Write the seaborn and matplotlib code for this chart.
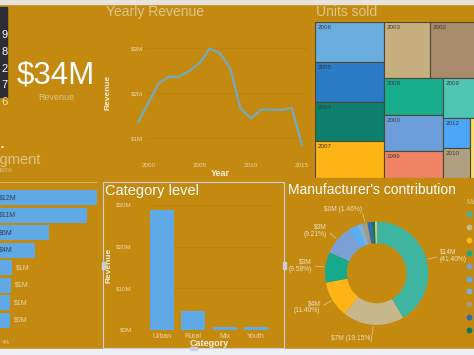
import numpy as np
import pandas as pd
import matplotlib.pyplot as plt
import seaborn as sns
from matplotlib.patches import Rectangle
from matplotlib.lines import Line2D

# Daten
years = list(range(1999, 2016))
yearly_revenue = [1.36, 1.78, 2.22, 2.37, 2.37, 2.50, 2.67, 3.00, 2.89, 2.56,
                  1.67, 1.44, 1.64, 1.64, 1.63, 1.68, 0.85]  # $M

tree_years = ['2006', '2005', '2004', '2007', '2003', '2002', '2008', '2000',
              '1999', '2009', '2012', '2010', '2011']
tree_units = [2760, 2760, 2690, 2553, 2576, 2540, 2183, 2124, 1593, 1350, 810, 800, 377]
tree_colors = ['#6AAEE0', '#2B7BC6', '#0C7F6D', '#FDB515', '#C6AE7F', '#A88B6B',
               '#17AE8E', '#6D9EDC', '#F08462', '#4FC6B3', '#4DA6F5', '#AFA082', '#F7DC6F']

categories = ['Urban', 'Rural', 'Mix', 'Youth']
category_revenue = [28.8, 4.6, 0.8, 0.65]  # $M

segments = ['Productivity', 'Convenience', 'Moderation', 'Extreme',
            'Select', 'Youth', 'Regular', 'All Season']
segment_revenue = [12.4, 11.2, 6.45, 4.7, 1.86, 1.74, 1.61, 1.61]
segment_labels = ['$12M', '$11M', '$6M', '$4M', '$1M', '$1M', '$1M', '$0M']

manufacturers = ['VanArsdel', 'Natura', 'Aliqui', 'Pirum', 'Fama', 'Leo',
                 'Abbas', 'Quibus', 'Currus', 'Palma', 'Barba']
manufacturer_share = [41.40, 19.15, 11.40, 9.58, 9.21, 3.0, 1.7, 1.46, 1.4, 1.0, 0.5]  # %
manufacturer_colors = ['#3DB5A0', '#C9B78C', '#FDB515', '#17A98B', '#7C9FD8', '#5AAEF5',
                       '#7DB0E0', '#A99A7C', '#2E6DB4', '#0D7562', '#F3D58C']
manufacturer_labelled = [True, True, True, True, True, False, False, True, False, False, False]
total_revenue = 34  # $M

GOLD = '#C48A10'
PALE = '#DCC78C'
TICK = '#E8D7A8'
AXLAB = '#F5EEDC'
BAR = '#5FAAE6'
LINE = '#72AAC2'
GRID = '#A8760E'

sns.set_theme(style='white')
plt.rcParams['font.family'] = ['Liberation Sans', 'DejaVu Sans']

W, H = 474, 355
fig = plt.figure(figsize=(W / 100, H / 100), dpi=100, facecolor=GOLD)


def box(l, t, r, b):
    # Achse in Pixelkoordinaten anlegen
    ax = fig.add_axes([l / W, 1 - b / H, (r - l) / W, (b - t) / H])
    ax.set_facecolor('none')
    for s in ax.spines.values():
        s.set_visible(False)
    return ax


def ftext(x, y, s, **kw):
    fig.text(x / W, 1 - y / H, s, **kw)


def frect(x, y, w, h, **kw):
    fig.patches.append(Rectangle((x / W, 1 - (y + h) / H), w / W, h / H,
                                 transform=fig.transFigure, **kw))


# Rahmen / Streifen
frect(0, 0, W, 4, color='#E7E3DB')
frect(0, 349, W, 6, color='#EDF1F6')
frect(0, 7, 7, 90, color='#2B2E37')
for d, y, c in zip('98276', [35, 52, 69, 85, 102], ['white'] * 4 + ['#F2E2A8']):
    ftext(7.5, y, d, ha='right', va='center', fontsize=8, color=c)
ftext(1, 147, '•', ha='left', va='center', fontsize=6, color='white')

# KPI
ftext(56, 76, '$34M', ha='center', va='center', fontsize=22.5, color='white')
ftext(56, 97, 'Revenue', ha='center', va='center', fontsize=6.5, color=PALE)

# Titel
ftext(106, 12, 'Yearly Revenue', va='center', fontsize=10, color=PALE)
ftext(316, 12, 'Units sold', va='center', fontsize=10, color=PALE)
ftext(40, 160, 'by Segment', ha='right', va='center', fontsize=10.5, color=PALE)
ftext(105, 191, 'Category level', va='center', fontsize=10.5, color='white')
ftext(288, 190, "Manufacturer's contribution", va='center', fontsize=10, color='white')

# Liniendiagramm
ax = box(133, 30, 307, 155)
sns.lineplot(x=years, y=yearly_revenue, color=LINE, lw=1.6, ax=ax)
ax.set_xlim(1998.51, 2015.49)
ax.set_ylim(0.63, 3.41)
ax.set_yticks([1, 2, 3])
ax.set_yticklabels(['$1M', '$2M', '$3M'])
ax.set_xticks([2000, 2005, 2010, 2015])
ax.tick_params(axis='y', length=0, pad=-7, labelsize=4.5, labelcolor=TICK)
ax.tick_params(axis='x', length=0, pad=6, labelsize=4.5, labelcolor=TICK)
for v in [1, 2, 3]:
    ax.axhline(v, xmin=0.08, color=GRID, lw=0.6, ls=(0, (1, 1.5)), zorder=0)
ax.set_xlabel('Year', fontsize=6.5, fontweight='bold', color=AXLAB)
ax.set_ylabel('Revenue', fontsize=6, fontweight='bold', color=AXLAB)
ax.xaxis.set_label_coords(0.5, -0.112)
ax.yaxis.set_label_coords(-0.124, 0.5)


# Treemap (squarified mit wechselnder Ausrichtung)
def worst_ratio(row, side):
    t = sum(row) / side
    return max(max(t / (r / t), (r / t) / t) for r in row)


def treemap(sizes, x, y, w, h, vertical=True, limit=2.5):
    rects = []
    i = 0
    while i < len(sizes):
        side = h if vertical else w
        row = [sizes[i]]
        i += 1
        while i < len(sizes):
            cand = row + [sizes[i]]
            wc = worst_ratio(cand, side)
            if wc <= limit or wc < worst_ratio(row, side):
                row = cand
                i += 1
            else:
                break
        t = sum(row) / side
        pos = y if vertical else x
        for r in row:
            l = r / t
            rects.append((x, pos, t, l) if vertical else (pos, y, l, t))
            pos += l
        if vertical:
            x += t
            w -= t
        else:
            y += t
            h -= t
        vertical = not vertical
    return rects


tw, th = 161, 156
ax = box(315, 22, 315 + tw, 22 + th)
ax.set_xlim(0, tw)
ax.set_ylim(th, 0)
areas = np.array(tree_units, dtype=float) / sum(tree_units) * tw * th
for (x, y, w, h), lab, c in zip(treemap(list(areas), 0, 0, tw, th), tree_years, tree_colors):
    ax.add_patch(Rectangle((x, y), w, h, facecolor=c, edgecolor='#4D4535', lw=0.8))
    if w > 14 and h > 10:
        ax.text(x + 2.5, y + 3, lab, fontsize=4.5, color='#3B3B3B', va='top', ha='left')
ax.set_xticks([])
ax.set_yticks([])

# Segment-Balken
ax = box(-3, 189, -3 + 12.5 * 8.06, 329)
df_seg = pd.DataFrame({'Segment': segments, 'Revenue': segment_revenue})
sns.barplot(data=df_seg, x='Revenue', y='Segment', orient='h', color=BAR,
            width=0.85, saturation=1, linewidth=0, edgecolor=BAR, ax=ax)
ax.set_xlim(0, 12.5)
ax.set_ylim(7.5, -0.5)
ax.set_xticks([])
ax.set_yticks([])
ax.set_xlabel('')
ax.set_ylabel('')
for i, (v, lab) in enumerate(zip(segment_revenue, segment_labels)):
    if v > 3:
        ax.text(0.2, i, lab, color='#34404E', va='center', ha='left', fontsize=5)
    else:
        ax.text(v + 0.45, i, lab, color=TICK, va='center', ha='left', fontsize=5)
fig.lines.append(Line2D([0, 97 / W], [1 - 182 / H] * 2, transform=fig.transFigure,
                        color='#D8C89A', lw=0.5))
ftext(-1, 170, '100%', va='center', fontsize=4, color=PALE)
ftext(2, 343, '4%', va='center', fontsize=4, color=PALE)

# Kategorie-Balken
ax = box(146, 200, 272, 330)
df_cat = pd.DataFrame({'Category': categories, 'Revenue': category_revenue})
sns.barplot(data=df_cat, x='Category', y='Revenue', color=BAR, width=0.76,
            saturation=1, linewidth=0, edgecolor=BAR, ax=ax)
ax.set_xlim(-0.5, 3.5)
ax.set_ylim(0, 31.2)
ax.set_yticks([0, 10, 20, 30])
ax.set_yticklabels(['$0M', '$10M', '$20M', '$30M'])
ax.tick_params(axis='y', length=0, pad=10, labelsize=4.5, labelcolor=TICK)
ax.tick_params(axis='x', length=0, pad=1.8, labelsize=5, labelcolor=TICK)
for v in [10, 20, 30]:
    ax.axhline(v, xmin=0.03, color=GRID, lw=0.6, ls=(0, (1, 1.5)), zorder=0)
ax.set_xlabel('Category', fontsize=6.5, fontweight='bold', color=AXLAB)
ax.set_ylabel('Revenue', fontsize=6, fontweight='bold', color=AXLAB)
ax.xaxis.set_label_coords(0.5, -0.07)
ax.yaxis.set_label_coords(-0.266, 0.5)

# Auswahlrahmen
frect(103, 182, 181, 166, fill=False, edgecolor='#C9CEDA', lw=0.8)
frect(102, 262, 2.5, 7, color='#C9CEDA')
frect(283, 262, 2.5, 7, color='#C9CEDA')
frect(190, 347, 7, 2.5, color='#C9CEDA')

# Donut
cx, cy = 376.7, 273.3
ax = box(cx - 62, cy - 62, cx + 62, cy + 62)
wedges, _ = ax.pie(manufacturer_share, colors=manufacturer_colors, startangle=90,
                   counterclock=False, radius=1,
                   wedgeprops=dict(width=0.42, edgecolor='none'))
ax.set_xlim(-1.2, 1.2)
ax.set_ylim(-1.2, 1.2)
for w, p, show in zip(wedges, manufacturer_share, manufacturer_labelled):
    if not show:
        continue
    ang = np.deg2rad((w.theta1 + w.theta2) / 2)
    x, y = np.cos(ang), np.sin(ang)
    ax.plot([1.03 * x, 1.2 * x], [1.03 * y, 1.2 * y], color='#E8DCC0', lw=0.4)
    val = f"${p * total_revenue / 100:.0f}M"
    sep = ' ' if abs(y) > 0.9 else '\n'
    ax.text(1.27 * x, 1.27 * y, f"{val}{sep}({p:.2f}%)", fontsize=4.8,
            color='#EADFC4', ha='left' if x > 0 else 'right', va='center',
            linespacing=1.0)

handles = [Line2D([], [], marker='o', ls='', color=c, markersize=3.2)
           for c in manufacturer_colors[:10]]
leg = fig.legend(handles=handles, labels=manufacturers[:10], title='Manufacturer',
                 loc='upper left', bbox_to_anchor=(466 / W, 1 - 199 / H),
                 frameon=False, fontsize=5, title_fontsize=5, labelspacing=0.84,
                 handlelength=0.8, handletextpad=0.5, borderpad=0, borderaxespad=0,
                 labelcolor=PALE, alignment='left')
leg.get_title().set_color(PALE)

fig.savefig('out.png', dpi=100, facecolor=GOLD)
